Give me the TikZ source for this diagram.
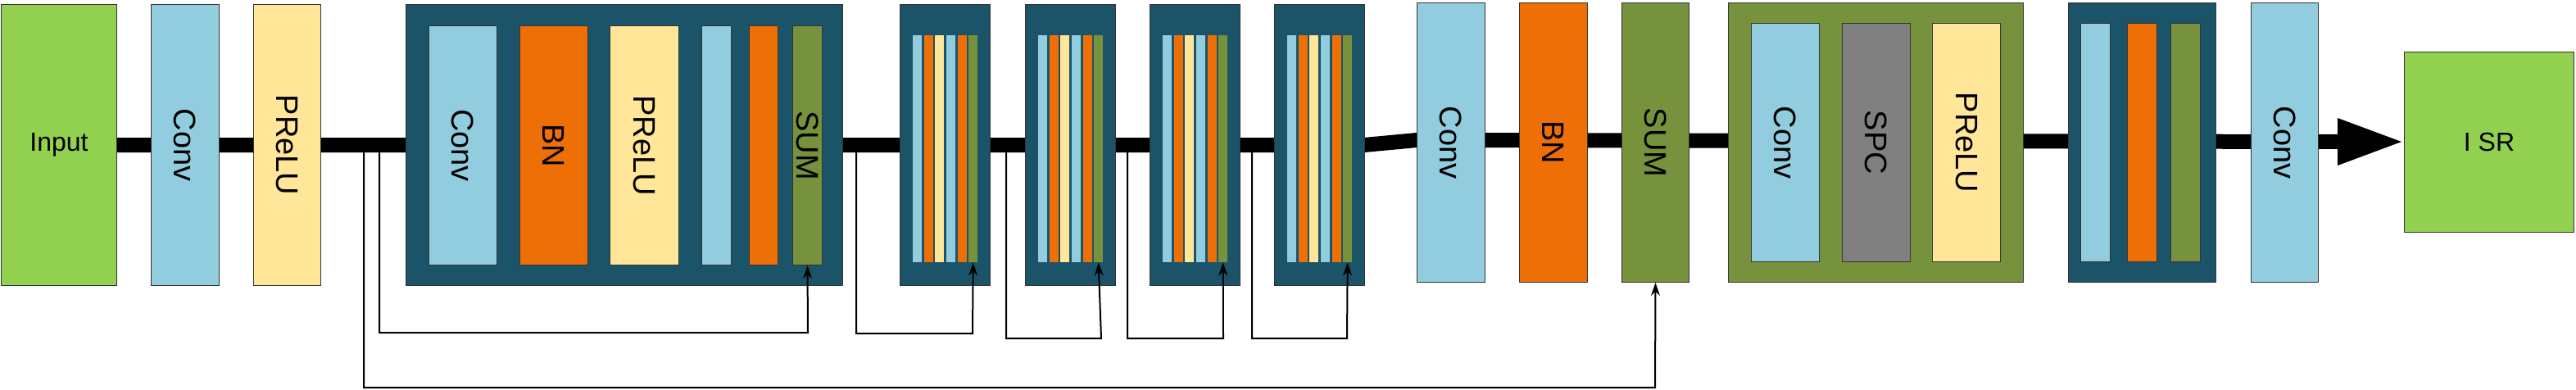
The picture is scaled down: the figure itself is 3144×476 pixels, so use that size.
\documentclass[tikz,border=0pt]{standalone}
\usepackage{fontspec}
\setmainfont{Liberation Sans}
\usetikzlibrary{arrows.meta}
\definecolor{cblue}{HTML}{92CDDF}
\definecolor{corange}{HTML}{EE6F05}
\definecolor{cyellow}{HTML}{FFE699}
\definecolor{colive}{HTML}{76923C}
\definecolor{cteal}{HTML}{1B5468}
\definecolor{cgreen}{HTML}{92D050}
\definecolor{cgray}{HTML}{808080}
\tikzset{
  box/.style={draw=black!80, line width=1pt, inner sep=0pt, anchor=north west},
  lbl/.style={font=\fontsize{38}{40}\selectfont, rotate=-90},
  hlbl/.style={font=\fontsize{32}{34}\selectfont},
  skip/.style={line width=2pt, -{Stealth[length=16pt,width=11pt]}},
  mainline/.style={line width=18pt},
}
% \blk{name}{x1}{y1}{x2}{y2}{color}
\newcommand{\blk}[6]{\node[box, fill=#6, minimum width={(#4-#2)*1pt}, minimum height={(#5-#3)*1pt}] (#1) at (#2,#3) {};}
\begin{document}
\begin{tikzpicture}[x=1pt,y=-1pt]
\useasboundingbox (0,0) rectangle (3144,476);
% main line
\coordinate (m0) at (142,177);
\coordinate (m1) at (1665,177);
\coordinate (m2) at (1729,171);
\coordinate (m3) at (2853,173);
\draw[mainline] (m0) -- (m1) -- (m2) -- (m3);
\fill (2853,144) coordinate (t1) -- (2931,173) coordinate (tip) -- (2853,202) coordinate (t2) -- cycle;
% first blocks
\blk{in}{1}{5}{142}{348}{cgreen}
\node[hlbl] at (in) {Input};
\blk{conv1}{184}{5}{267}{348}{cblue}
\node[lbl] at (conv1) {Conv};
\blk{prelu1}{309}{5}{391}{348}{cyellow}
\node[lbl] at (prelu1) {PReLU};
% big residual block
\blk{rb}{495}{5}{1028}{348}{cteal}
\blk{rbconv}{523}{31}{606}{323}{cblue}
\node[lbl] at (rbconv) {Conv};
\blk{rbbn}{634}{31}{717}{323}{corange}
\node[lbl] at (rbbn) {BN};
\blk{rbprelu}{744}{31}{828}{323}{cyellow}
\node[lbl] at (rbprelu) {PReLU};
\blk{rbconv2}{856}{31}{892}{323}{cblue}
\blk{rbbn2}{914}{31}{949}{323}{corange}
\blk{rbsum}{967}{31}{1003}{323}{colive}
\node[lbl] at (rbsum) {SUM};
% small residual blocks
\foreach \n/\x in {1/1098,2/1251,3/1403,4/1555}{
  \blk{sb\n}{\x}{5}{\x+110}{348}{cteal}
  \foreach \k/\o/\c in {1/16/cblue,2/29.5/corange,3/43/cyellow,4/57/cblue,5/70.5/corange,6/84/colive}{
    \node[inner sep=0pt, anchor=north west, fill=\c, minimum width=11pt, minimum height=277pt] (sb\n s\k) at (\x+\o,43) {};
  }
}
% after
\blk{conv2}{1729}{3}{1812}{344}{cblue}
\node[lbl] at (conv2) {Conv};
\blk{bn2}{1854}{3}{1937}{344}{corange}
\node[lbl] at (bn2) {BN};
\blk{sum2}{1979}{3}{2061}{344}{colive}
\node[lbl] at (sum2) {SUM};
\blk{up}{2109}{3}{2469}{344}{colive}
\blk{upconv}{2137}{28}{2220}{319}{cblue}
\node[lbl] at (upconv) {Conv};
\blk{upspc}{2248}{28}{2331}{319}{cgray}
\node[lbl] at (upspc) {SPC};
\blk{upprelu}{2358}{28}{2441}{319}{cyellow}
\node[lbl] at (upprelu) {PReLU};
\blk{db}{2524}{3}{2704}{344}{cteal}
\blk{dbs1}{2539}{28}{2575}{319}{cblue}
\blk{dbs2}{2596}{28}{2632}{319}{corange}
\blk{dbs3}{2649}{28}{2685}{319}{colive}
\blk{conv3}{2747}{3}{2829}{344}{cblue}
\node[lbl] at (conv3) {Conv};
\blk{isr}{2934}{63}{3141}{283}{cgreen}
\node[hlbl] at (isr) {I SR};
% skip connections
\coordinate (a1) at (444,186);
\draw[skip] (a1) |- (2020,473) -- (sum2.south);
\coordinate (a2) at (463,186);
\draw[skip] (a2) |- (986,406) -- (rbsum.south);
\coordinate (a3) at (1045,186);
\draw[skip] (a3) |- (1187,407) -- (sb1s6.south);
\coordinate (a4) at (1228,186);
\draw[skip] (a4) |- (1344,413) -- (sb2s6.south);
\coordinate (a5) at (1376,186);
\draw[skip] (a5) |- (1493,413) -- (sb3s6.south);
\coordinate (a6) at (1528,186);
\draw[skip] (a6) |- (1644,413) -- (sb4s6.south);
\end{tikzpicture}
\end{document}
